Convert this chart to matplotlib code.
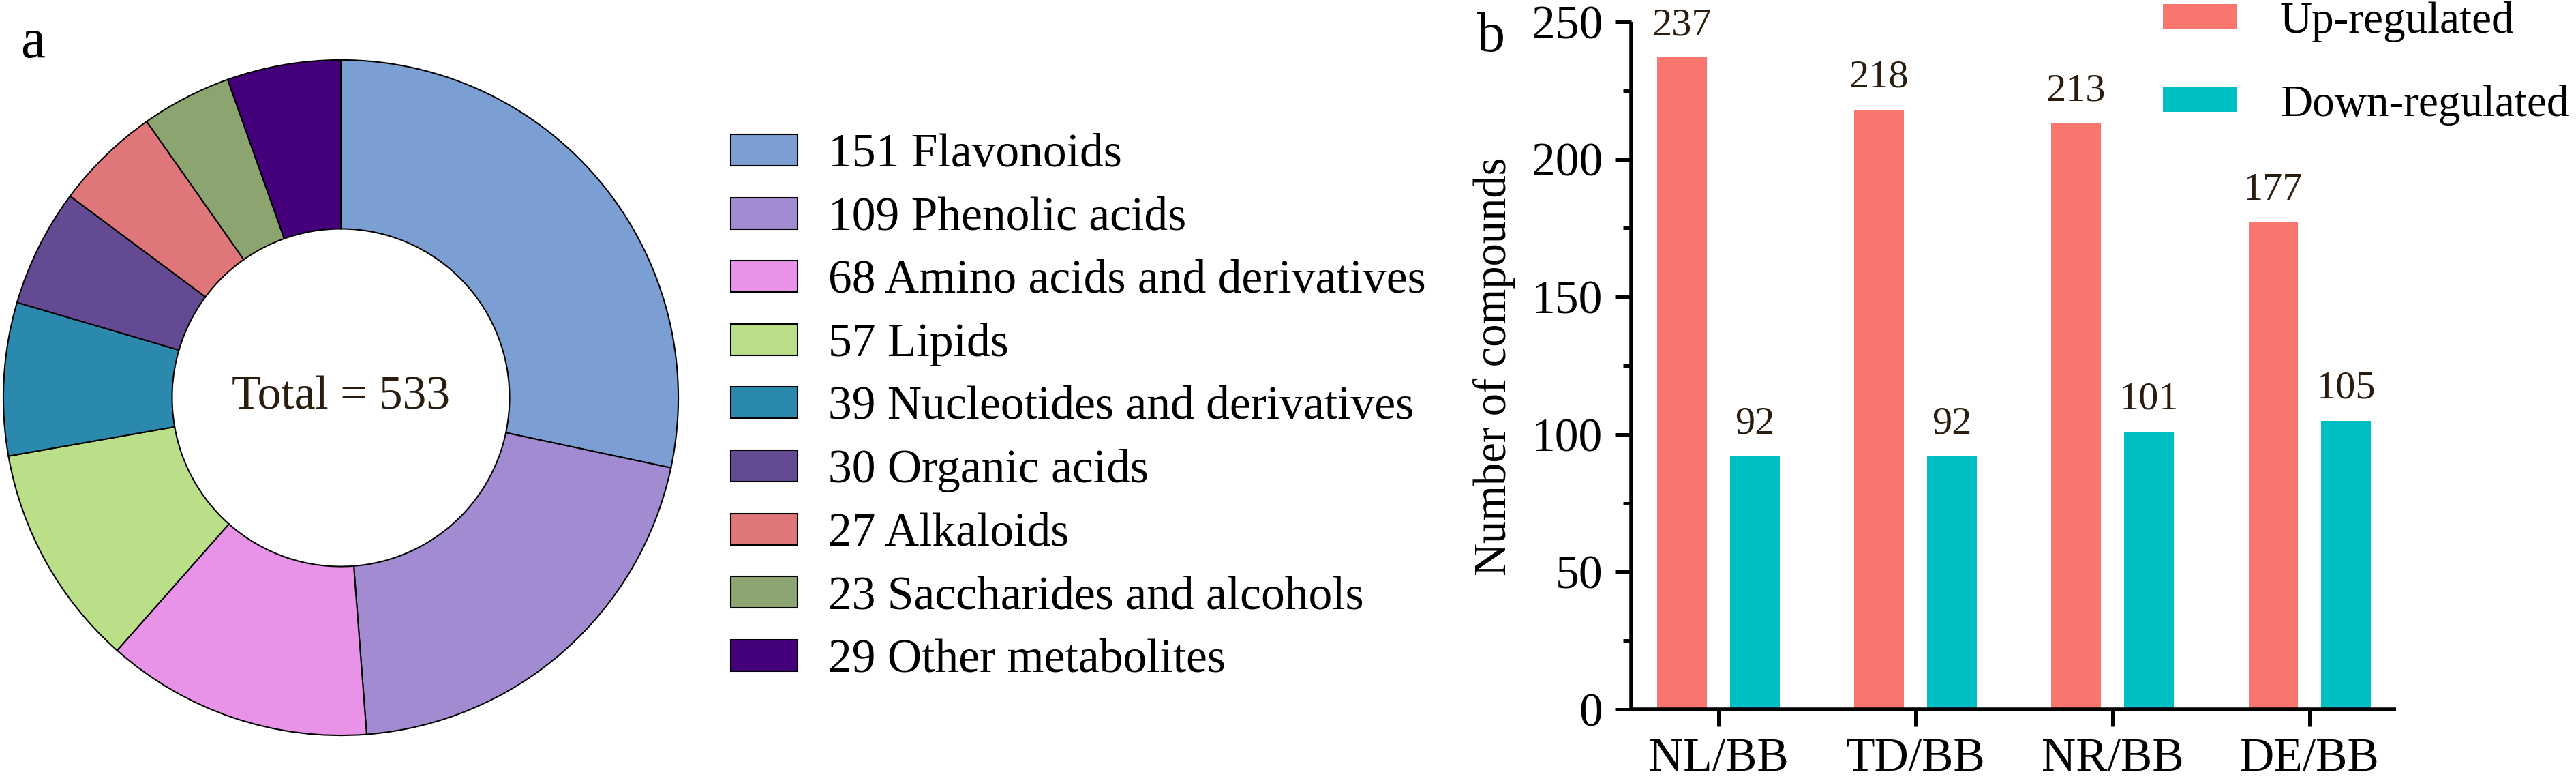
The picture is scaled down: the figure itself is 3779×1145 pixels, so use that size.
import numpy as np
import matplotlib
matplotlib.use('Agg')
import matplotlib.pyplot as plt
from matplotlib.patches import Rectangle
from matplotlib.ticker import MultipleLocator

plt.rcParams['font.family'] = ['Liberation Serif', 'DejaVu Serif']

# Panel a: compound classes
classNames = ['Flavonoids', 'Phenolic acids', 'Amino acids and derivatives', 'Lipids',
              'Nucleotides and derivatives', 'Organic acids', 'Alkaloids',
              'Saccharides and alcohols', 'Other metabolites']
classCounts = [151, 109, 68, 57, 39, 30, 27, 23, 29]
classColors = ['#7B9FD3', '#A38BD1', '#E893E8', '#BADF88', '#2C89AE',
               '#644A92', '#DF7679', '#8CA46F', '#43007A']
totalLabel = 'Total = 533'

# Panel b: differential compounds
groups = ['NL/BB', 'TD/BB', 'NR/BB', 'DE/BB']
upReg = [237, 218, 213, 177]
downReg = [92, 92, 101, 105]
upColor = '#F8766D'
downColor = '#00BFC4'

W, H = 3780, 1145
def fx(px):
    return px / W
def fy(py):
    return 1 - py / H

fig = plt.figure(figsize=(W / 100, H / 100), dpi=100)
labelColor = '#2B1D0E'

# ---- donut ----
ax1 = fig.add_axes([fx(0), fy(1083), 1000 / W, 1000 / H])
ax1.pie(classCounts, colors=classColors, startangle=90, counterclock=False,
        radius=1.0, wedgeprops=dict(width=0.5, edgecolor='black', linewidth=1.5))
ax1.set_xlim(-1.01, 1.01)
ax1.set_ylim(-1.01, 1.01)
ax1.text(0.0, -0.034, totalLabel, ha='center', va='baseline', fontsize=50, color=labelColor)

# legend for donut (drawn by hand to match spacing)
for i, (n, c, col) in enumerate(zip(classNames, classCounts, classColors)):
    top = 197 + 92.6 * i
    fig.add_artist(Rectangle((fx(1072), fy(top + 46)), 98 / W, 46 / H,
                             transform=fig.transFigure, facecolor=col,
                             edgecolor='black', linewidth=1.5))
    fig.text(fx(1215), fy(top + 23 + 24), f'{c} {n}', fontsize=50, va='baseline', ha='left')

# ---- bars ----
ax2 = fig.add_axes([fx(2393), fy(1040), (3515 - 2393) / W, (1040 - 32) / H])
x = np.arange(len(groups))
b1 = ax2.bar(x - 0.185, upReg, 0.25, color=upColor, linewidth=0)
b2 = ax2.bar(x + 0.185, downReg, 0.25, color=downColor, linewidth=0)
for bars in (b1, b2):
    for r in bars:
        ax2.annotate(f'{int(r.get_height())}', (r.get_x() + r.get_width() / 2, r.get_height()),
                     xytext=(0, 24), textcoords='offset points', ha='center', va='baseline',
                     fontsize=42, color=labelColor, annotation_clip=False)

ax2.set_xlim(-0.443, 3.439)
ax2.set_ylim(0, 250)
ax2.spines['top'].set_visible(False)
ax2.spines['right'].set_visible(False)
for s in ('left', 'bottom'):
    ax2.spines[s].set_linewidth(4)
    ax2.spines[s].set_capstyle('butt')
ax2.set_xticks(x)
ax2.set_xticklabels(groups)
ax2.yaxis.set_major_locator(MultipleLocator(50))
ax2.yaxis.set_minor_locator(MultipleLocator(25))
ax2.tick_params(axis='y', which='major', length=17, width=3.6, pad=13, labelsize=50)
ax2.tick_params(axis='y', which='minor', length=8.5, width=3.6)
ax2.tick_params(axis='x', which='major', length=18, width=3.6, pad=12, labelsize=50)
ax2.set_facecolor('none')

fig.text(fx(2192), fy(537), 'Number of compounds', rotation=90, ha='center', va='center', fontsize=48)

# legend for bars
for i, (lab, col) in enumerate([('Up-regulated', upColor), ('Down-regulated', downColor)]):
    top = 6 + 121 * i
    fig.add_artist(Rectangle((fx(3173), fy(top + 37)), 108 / W, 37 / H,
                             transform=fig.transFigure, facecolor=col, linewidth=0))
    fig.text(fx(3345), fy(top + 18.5 + 24), lab, fontsize=47, va='baseline', ha='left')

# panel letters
fig.text(fx(30), fy(84), 'a', fontsize=59, va='baseline')
fig.text(fx(2167), fy(75), 'b', fontsize=59, va='baseline')

fig.savefig('out.png', dpi=100, facecolor='white')
